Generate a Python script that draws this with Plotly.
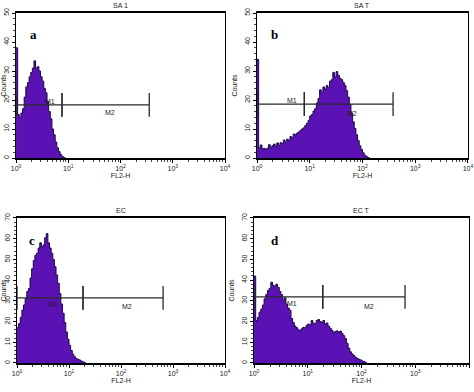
import plotly.graph_objects as go

# ---------------- data ----------------
BINS_PER_DECADE = 32  # 128-channel log histogram spanning 4 decades

counts_sa1 = [38, 15, 14, 15.5, 17, 21, 24.5, 26, 28, 29.5, 31, 33.5, 31, 31.5, 30,
              28, 26.5, 24, 22.5, 19.5, 16, 13.5, 10, 8, 5.5, 3.5, 2.2, 1.2, 0.5, 0.2, 0]

counts_sat = [34, 3.5, 4.5, 3.2, 3.3, 3.0, 3.4, 4.6, 3.5, 4.2, 4.8, 3.9, 5.2, 4.4, 5.3,
              5.0, 6.2, 5.4, 6.5, 6.0, 7.4, 7.0, 8.3, 8.0, 8.6, 9.0, 9.5, 10.0, 10.4,
              11.2, 12.0, 13.0, 14.5, 15.0, 16.2, 17.0, 19.0, 20.5, 23.5, 22.5, 24.5,
              23.8, 25.0, 24.2, 26.5, 27.0, 29.5, 28.0, 29.8, 28.5, 27.5, 27.0, 26.0,
              25.0, 23.2, 21.0, 18.5, 15.5, 12.5, 10.2, 8.0, 6.0, 4.2, 3.0, 1.8, 1.0,
              0.5, 0.2, 0]

counts_ec = [17, 19, 22, 25.5, 28, 31, 34.5, 36, 41, 45.5, 49.5, 52, 53, 55.5, 58, 56,
             57, 60.5, 62.5, 58, 55.5, 53, 50, 46.5, 42.5, 38.5, 33.5, 28.5, 24, 19.5,
             15, 11.5, 8.5, 6, 4.2, 3.0, 2.2, 1.8, 1.5, 1.0, 0.6, 0.3, 0]

counts_ect = [42, 20.5, 22, 24.5, 26, 28, 31, 33, 35, 36, 39, 37.5, 37, 38, 36.5, 34.5,
              33, 30.5, 31.5, 28.5, 26.5, 25.5, 21.5, 19.5, 17.8, 17, 16, 15.6, 16.5,
              17.2, 17, 18.2, 18.8, 18.5, 20.5, 19.2, 19, 20.5, 21, 20, 19.5, 20.5,
              18.8, 19.3, 17.8, 16.8, 15.8, 14.6, 15.2, 15.5, 14.8, 15.4, 14.3, 13.2,
              11.8, 9.5, 7.2, 5.4, 4.4, 3.6, 2.8, 2.2, 1.8, 1.5, 1.0, 0.7, 0.3, 0]

panel_counts = [counts_sa1, counts_sat, counts_ec, counts_ect]
panel_titles = ["SA 1", "SA T", "EC", "EC T"]
panel_letters = ["a", "b", "c", "d"]
y_max = [50, 50, 70, 70]

gate_m1 = [(1, 7.6), (1, 7.9), (1, 18.6), (1, 19)]
gate_m2 = [(7.6, 355), (7.9, 380), (18.6, 645), (19, 645)]
gate_level = [18.3, 18.6, 31.4, 31.9]

x_tick_vals = [1, 10, 100, 1000, 10000]
x_tick_text = ["10<sup>0</sup>", "10<sup>1</sup>", "10<sup>2</sup>", "10<sup>3</sup>", "10<sup>4</sup>"]
x_minor_vals = [m * 10 ** k for k in range(4) for m in range(2, 10)]

# ---------------- layout / style ----------------
FILL = "#5a12b4"
EDGE = "#1c0848"
TEXT = "#1a1a1a"
FONT = "Liberation Sans"

x_domains = [[0.0338, 0.4747], [0.5422, 0.9873], [0.0359, 0.4747], [0.5359, 0.9895]]
y_domains = [[0.5969, 0.9668], [0.5969, 0.9668], [0.0740, 0.4439], [0.0740, 0.4439]]
letter_pos = [(0.055, 0.915), (0.058, 0.915), (0.05, 0.91), (0.07, 0.91)]
m1_label = [(0.65, 3), (0.66, 4), (0.69, -7), (0.71, -7)]
m2_label = [(1.80, -8), (1.80, -9), (2.12, -9), (2.14, -10)]

fig = go.Figure()
layout = dict(
    width=474, height=392, margin=dict(l=0, r=0, t=0, b=0),
    paper_bgcolor="white", plot_bgcolor="white", showlegend=False,
    font=dict(family=FONT, size=7, color=TEXT),
)
annotations = []

for i in range(4):
    sfx = "" if i == 0 else str(i + 1)
    xa, ya = "x" + sfx, "y" + sfx
    counts = panel_counts[i]
    xs = [10 ** (ch / BINS_PER_DECADE) for ch in range(len(counts))]
    fig.add_trace(go.Scatter(
        x=xs, y=counts, xaxis=xa, yaxis=ya, mode="lines",
        line=dict(shape="hv", color=EDGE, width=1),
        fill="tozeroy", fillcolor=FILL, hoverinfo="skip"))
    for (lo, hi) in (gate_m1[i], gate_m2[i]):
        fig.add_trace(go.Scatter(
            x=[lo, hi], y=[gate_level[i], gate_level[i]], xaxis=xa, yaxis=ya,
            mode="lines+markers", line=dict(color="#2a2a2a", width=1.3),
            marker=dict(symbol="line-ns-open", size=17,
                        line=dict(color="#2a2a2a", width=1.3)),
            hoverinfo="skip"))

    layout["xaxis" + sfx] = dict(
        domain=x_domains[i], anchor=ya, type="log", range=[0, 4],
        tickvals=x_tick_vals, ticktext=x_tick_text, ticks="outside", ticklen=3,
        tickcolor="black", tickfont=dict(size=7, color=TEXT),
        minor=dict(tickvals=x_minor_vals, ticks="outside", ticklen=2, tickcolor="#444"),
        showline=True, linecolor="black", linewidth=1.5, mirror=True,
        showgrid=False, zeroline=False, automargin=False,
        title=dict(text="FL2-H", font=dict(size=7, color=TEXT), standoff=2),
    )
    layout["yaxis" + sfx] = dict(
        domain=y_domains[i], anchor=xa, range=[0, y_max[i]], dtick=10,
        ticks="outside", ticklen=3, tickcolor="black", tickangle=-90,
        tickfont=dict(size=7, color=TEXT),
        minor=dict(dtick=2, ticks="outside", ticklen=2, tickcolor="#444"),
        showline=True, linecolor="black", linewidth=1, mirror=True,
        showgrid=False, zeroline=False, automargin=False,
        title=dict(text="Counts", font=dict(size=7, color=TEXT), standoff=5),
    )
    annotations.append(dict(
        text=panel_titles[i], xref=xa + " domain", yref=ya + " domain",
        x=0.5, y=1, yanchor="bottom", yshift=2, showarrow=False,
        font=dict(size=7, color=TEXT)))
    annotations.append(dict(
        text="<b>" + panel_letters[i] + "</b>", xref=xa + " domain", yref=ya + " domain",
        x=letter_pos[i][0], y=letter_pos[i][1], showarrow=False,
        font=dict(family="Liberation Serif", size=13, color="black")))
    for lab, (lx, dy) in (("M1", m1_label[i]), ("M2", m2_label[i])):
        annotations.append(dict(
            text=lab, xref=xa, yref=ya, x=lx, y=gate_level[i], yshift=dy,
            showarrow=False, font=dict(size=7, color=TEXT)))

layout["annotations"] = annotations
fig.update_layout(**layout)
fig.write_html("out.html", config={"displayModeBar": False},
               post_script="document.body.style.margin='0px';document.body.style.padding='0px';")
